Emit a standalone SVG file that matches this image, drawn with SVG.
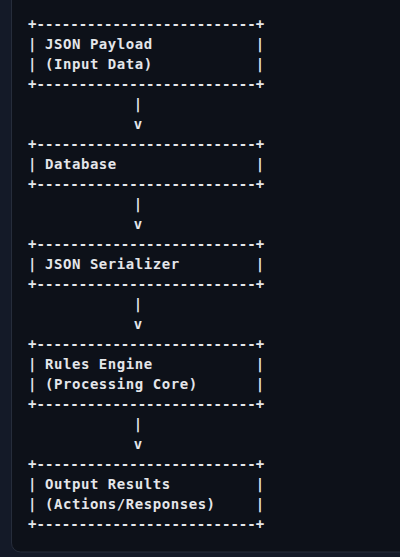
<svg xmlns="http://www.w3.org/2000/svg" width="400" height="557" viewBox="0 0 400 557">
<style>
text{font-family:"DejaVu Sans Mono","Liberation Mono",monospace;font-size:14px;font-weight:bold;fill:#e4e6ea;white-space:pre}
.l{letter-spacing:0.55px}
</style>
<rect x="0" y="0" width="400" height="557" fill="#141a28"/>
<rect x="11.5" y="-20" width="420" height="572" rx="9" fill="#0d1119" stroke="#262d3b" stroke-width="1"/>
<g id="node-json-payload">
<text x="28.1" y="29" xml:space="preserve">+--------------------------+</text>
<text x="28.1" y="49">|</text><text class="l" x="45" y="49">JSON Payload</text><text x="255.7" y="49">|</text>
<text x="28.1" y="69">|</text><text class="l" x="45" y="69">(Input Data)</text><text x="255.7" y="69">|</text>
<text x="28.1" y="89" xml:space="preserve">+--------------------------+</text>
</g>
<g id="node-database">
<text x="28.1" y="149" xml:space="preserve">+--------------------------+</text>
<text x="28.1" y="169">|</text><text class="l" x="45" y="169">Database</text><text x="255.7" y="169">|</text>
<text x="28.1" y="189" xml:space="preserve">+--------------------------+</text>
</g>
<g id="node-json-serializer">
<text x="28.1" y="249" xml:space="preserve">+--------------------------+</text>
<text x="28.1" y="269">|</text><text class="l" x="45" y="269">JSON Serializer</text><text x="255.7" y="269">|</text>
<text x="28.1" y="289" xml:space="preserve">+--------------------------+</text>
</g>
<g id="node-rules-engine">
<text x="28.1" y="349" xml:space="preserve">+--------------------------+</text>
<text x="28.1" y="369">|</text><text class="l" x="45" y="369">Rules Engine</text><text x="255.7" y="369">|</text>
<text x="28.1" y="389">|</text><text class="l" x="45" y="389">(Processing Core)</text><text x="255.7" y="389">|</text>
<text x="28.1" y="409" xml:space="preserve">+--------------------------+</text>
</g>
<g id="node-output-results">
<text x="28.1" y="469" xml:space="preserve">+--------------------------+</text>
<text x="28.1" y="489">|</text><text class="l" x="45" y="489">Output Results</text><text x="255.7" y="489">|</text>
<text x="28.1" y="509">|</text><text class="l" x="45" y="509">(Actions/Responses)</text><text x="255.7" y="509">|</text>
<text x="28.1" y="529" xml:space="preserve">+--------------------------+</text>
</g>
<g id="connectors" text-anchor="middle">
<text x="137.9" y="109">|</text>
<text x="137.9" y="129">v</text>
<text x="137.9" y="209">|</text>
<text x="137.9" y="229">v</text>
<text x="137.9" y="309">|</text>
<text x="137.9" y="329">v</text>
<text x="137.9" y="429">|</text>
<text x="137.9" y="449">v</text>
</g>
</svg>
